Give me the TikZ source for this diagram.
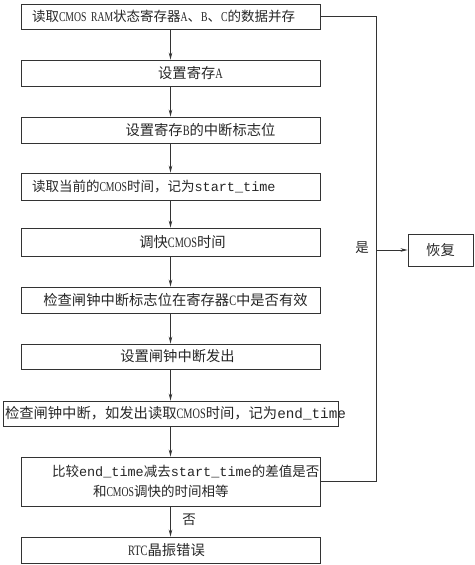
\documentclass[tikz,border=0pt]{standalone}
\usepackage{fontspec}
\setmainfont{Noto Sans CJK SC}
\setmonofont{Liberation Mono}
\newfontfamily\nwfont[FakeStretch=0.72]{Liberation Serif}
\newcommand{\nw}[1]{{\nwfont #1}}
\usetikzlibrary{arrows.meta}
\definecolor{ln}{HTML}{333333}
\tikzset{
  x=1pt, y=-1pt,
  box/.style={draw=ln, line width=0.9pt, minimum height=26pt, inner xsep=0pt, inner ysep=0pt,
              text width=299pt, align=center, font=\fontsize{14.3}{20}\selectfont, text=black!85},
  lbox/.style={box, align=left},
  small/.style={font=\fontsize{13.5}{20}\selectfont},
  arr/.style={draw=ln, line width=0.8pt, -{Stealth[length=7pt,width=3.5pt]}},
  lnk/.style={draw=ln, line width=0.8pt},
  lab/.style={font=\fontsize{13.5}{16}\selectfont, inner sep=0pt, text=black!85}
}
\begin{document}
\begin{tikzpicture}
\useasboundingbox (0,0) rectangle (474,565);
\node[lbox, small, minimum height=25pt] (b1) at (170.5,16.5) {\hspace*{11pt}读取\nw{CMOS RAM}状态寄存器\nw{A}、\nw{B}、\nw{C}的数据并存};
\node[box] (b2) at (170.5,73) {\hspace*{40pt}设置寄存\nw{A}};
\node[box] (b3) at (170.5,130) {\hspace*{60pt}设置寄存\nw{B}的中断标志位};
\node[lbox, small, minimum height=27pt] (b4) at (170.5,186.5) {\hspace*{11pt}读取当前的\nw{CMOS}时间，记为\texttt{start\_time}};
\node[box, minimum height=28pt] (b5) at (170.5,242) {\hspace*{24pt}调快\nw{CMOS}时间};
\node[box] (b6) at (170.5,300) {\hspace*{10pt}检查闸钟中断标志位在寄存器\nw{C}中是否有效};
\node[box, minimum height=25pt] (b7) at (170.5,356.5) {\hspace*{14pt}设置闸钟中断发出};
\node[lbox, minimum height=25pt, text width=335pt] (b8) at (170.5,413.5) {\hspace*{2pt}检查闸钟中断，如发出读取\nw{CMOS}时间，记为\texttt{end\_time}};
\node[lbox, small, minimum height=49pt] (b9) at (170.5,481.5) {\hspace*{31pt}比较\texttt{end\_time}减去\texttt{start\_time}的差值是否\\\hspace*{72pt}和\nw{CMOS}调快的时间相等};
\node[box] (b10) at (170.5,550) {\hspace*{-8pt}\nw{RTC}晶振错误};
\node[box, text width=65pt, minimum height=32pt] (rec) at (440.5,250) {恢复};
\draw[arr] (b1) -- (b2);
\draw[arr] (b2) -- (b3);
\draw[arr] (b3) -- (b4);
\draw[arr] (b4) -- (b5);
\draw[arr] (b5) -- (b6);
\draw[arr] (b6) -- (b7);
\draw[arr] (b7) -- (b8);
\draw[arr] (b8) -- (b9);
\draw[arr] (b9) -- (b10);
\coordinate (c1) at (376,16.5);
\coordinate (c2) at (376,481.5);
\coordinate (cy) at (376,250);
\draw[lnk] (b1.east) -- (c1) -- (c2) -- (b9.east);
\draw[arr] (cy) -- (rec.west);
\node[lab] (yes) at (362,248) {是};
\node[lab] (no) at (189,520) {否};
\end{tikzpicture}
\end{document}
